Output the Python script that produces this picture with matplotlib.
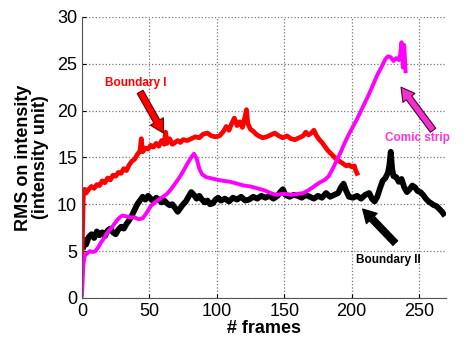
import numpy as np
import matplotlib
matplotlib.use("Agg")
import matplotlib.pyplot as plt

plt.rcParams['font.family'] = ['Liberation Sans', 'DejaVu Sans']

# Boundary I (red)
red_frames = [0, 1, 2, 3, 5, 7, 9, 11, 13, 15, 17, 19, 21, 23, 25, 27, 29, 31, 33, 35,
              37, 39, 41, 43, 44, 45, 47, 49, 51, 53, 55, 57, 59, 61, 62, 63, 65, 67, 69,
              71, 73, 75, 78, 81, 84, 87, 90, 93, 96, 99, 102, 105, 107, 109, 111, 113,
              115, 117, 119, 121, 122, 123, 125, 127, 129, 131, 134, 137, 140, 143, 146,
              149, 152, 155, 158, 161, 164, 166, 168, 170, 172, 174, 176, 178, 180, 182,
              184, 186, 188, 190, 192, 194, 196, 198, 200, 202, 203, 204]
red_rms = [4.6, 11.0, 11.6, 11.2, 11.6, 11.9, 11.7, 12.1, 12.0, 12.5, 12.3, 12.8, 12.6,
           13.1, 13.0, 13.4, 13.3, 13.8, 13.6, 14.2, 14.6, 14.8, 15.3, 15.7, 17.0, 15.6,
           16.0, 15.9, 16.3, 16.1, 16.5, 16.2, 16.8, 16.4, 17.7, 16.5, 17.0, 16.4, 16.6,
           16.8, 16.6, 16.9, 16.8, 17.0, 17.2, 17.1, 17.5, 17.6, 17.3, 17.2, 17.3, 17.8,
           18.3, 17.9, 18.6, 19.2, 18.4, 18.8, 18.2, 19.4, 20.1, 18.6, 18.0, 17.8, 17.5,
           17.3, 17.1, 17.2, 17.4, 17.6, 17.3, 17.1, 17.3, 17.0, 16.9, 17.1, 17.3, 17.7,
           17.4, 17.6, 17.9, 17.3, 16.9, 16.6, 16.2, 15.8, 15.5, 15.2, 14.9, 14.7, 14.5,
           14.3, 14.1, 14.2, 14.0, 14.1, 13.6, 13.3]

# Comic strip (magenta)
mag_frames = [0, 1, 2, 4, 6, 8, 10, 12, 14, 16, 18, 20, 22, 24, 26, 28, 30, 33, 36, 39,
              42, 45, 48, 51, 54, 57, 60, 63, 66, 69, 72, 75, 78, 81, 83, 85, 87, 89, 92,
              95, 98, 101, 105, 110, 115, 120, 125, 130, 135, 140, 144, 148, 152, 156,
              160, 164, 168, 172, 176, 180, 183, 186, 189, 192, 195, 198, 201, 204, 207,
              210, 213, 216, 219, 222, 225, 227, 229, 231, 233, 235, 236, 237, 238, 239, 240]
mag_rms = [0.3, 3.5, 4.5, 4.8, 5.0, 4.9, 5.0, 5.4, 5.9, 6.3, 6.8, 7.2, 7.5, 7.9, 8.3, 8.6,
           8.8, 8.7, 8.6, 8.6, 8.4, 8.5, 9.1, 9.8, 10.2, 10.5, 10.8, 11.1, 11.6, 12.2,
           12.8, 13.5, 14.3, 15.0, 15.4, 14.9, 13.8, 13.2, 12.9, 12.8, 12.7, 12.6, 12.5,
           12.4, 12.2, 12.0, 11.9, 11.7, 11.5, 11.2, 11.0, 11.1, 11.1, 11.0, 11.1, 11.2,
           11.5, 11.9, 12.3, 12.6, 13.0, 13.8, 14.7, 15.6, 16.6, 17.5, 18.3, 19.1, 20.0,
           20.9, 21.8, 22.8, 23.8, 24.6, 25.5, 25.8, 25.7, 25.3, 25.6, 25.4, 26.0, 27.3,
           24.6, 27.0, 24.2]

# Boundary II (black)
blk_frames = [1, 2, 3, 5, 7, 9, 11, 13, 15, 17, 19, 21, 23, 25, 27, 29, 31, 33, 35, 37,
              39, 41, 43, 45, 47, 49, 51, 53, 55, 57, 59, 61, 63, 65, 67, 69, 71, 73, 75,
              77, 79, 81, 83, 85, 87, 89, 91, 93, 95, 97, 99, 101, 103, 106, 109, 112,
              115, 118, 121, 124, 127, 130, 133, 136, 139, 142, 145, 147, 149, 151, 154,
              157, 160, 163, 166, 169, 172, 175, 178, 181, 184, 187, 190, 192, 194, 196,
              198, 201, 204, 207, 210, 213, 215, 217, 219, 221, 223, 225, 227, 228, 229,
              230, 231, 233, 235, 237, 239, 241, 243, 245, 247, 249, 251, 253, 255, 257,
              259, 261, 263, 265, 267, 268]
blk_rms = [5.5, 6.2, 5.7, 6.5, 6.8, 6.4, 7.1, 6.7, 7.0, 6.6, 7.2, 7.4, 7.0, 6.8, 7.3, 7.6,
           7.4, 7.9, 8.3, 8.8, 9.4, 10.0, 10.4, 10.8, 10.5, 10.9, 10.6, 10.3, 10.7, 10.5,
           10.2, 10.4, 10.1, 9.9, 10.0, 9.6, 9.2, 9.6, 10.0, 10.3, 10.8, 11.3, 11.0, 10.6,
           10.9, 10.5, 10.2, 10.4, 10.0, 10.1, 10.5, 10.7, 10.4, 10.6, 10.3, 10.7, 10.5,
           10.8, 10.4, 10.5, 10.8, 10.6, 10.9, 10.7, 10.9, 10.6, 10.9, 11.3, 11.6, 11.0,
           10.8, 11.0, 10.9, 10.7, 11.0, 10.8, 10.6, 10.9, 10.7, 11.2, 10.8, 11.0, 11.2,
           11.8, 12.2, 11.4, 10.8, 10.7, 10.9, 10.6, 11.0, 11.2, 10.6, 10.3, 10.8, 11.7,
           12.5, 12.8, 13.4, 14.2, 15.6, 13.8, 13.0, 12.9, 12.4, 12.7, 11.8, 11.3, 11.6,
           12.0, 11.8, 11.4, 11.3, 11.0, 10.6, 10.3, 10.1, 9.9, 9.8, 9.5, 9.2, 9.0]

x_ticks = [0, 50, 100, 150, 200, 250]
y_ticks = [0, 5, 10, 15, 20, 25, 30]

fig = plt.figure(figsize=(4.74, 3.53), dpi=100)
ax = fig.add_axes([0.173, 0.156, 0.768, 0.796])

ax.plot(blk_frames, blk_rms, color='black', lw=4.2, solid_joinstyle='round')
ax.plot(red_frames, red_rms, color='#ff0000', lw=3.4, solid_joinstyle='round')
ax.plot(mag_frames, mag_rms, color='#ff00ff', lw=2.8, solid_joinstyle='round')

ax.set_xlim(0, 270)
ax.set_ylim(0, 30)
ax.set_xticks(x_ticks)
ax.set_yticks(y_ticks)
ax.tick_params(direction='in', length=3, labelsize=13, colors='black')
ax.grid(True, linestyle=':', color='#777777', lw=0.9)
for s in ['top', 'right']:
    ax.spines[s].set_visible(False)
for s in ['left', 'bottom']:
    ax.spines[s].set_color('#555555')

ax.set_xlabel('# frames', fontsize=13, fontweight='bold', labelpad=0)
ax.set_ylabel('RMS on intensity\n(intensity unit)', fontsize=13, fontweight='bold',
              labelpad=6, linespacing=1.0)

# annotation texts
ax.text(39.5, 23.0, 'Boundary I', color='#ff0000', fontsize=8.5, fontweight='bold',
        ha='center', va='center')
ax.text(249, 17.1, 'Comic strip', color='#ff33dd', fontsize=8.5, fontweight='bold',
        ha='center', va='center')
ax.text(227, 4.05, 'Boundary II', color='black', fontsize=8.5, fontweight='bold',
        ha='center', va='center')

# block arrows, tail -> head
arrow_style = 'simple,head_width=0.9,head_length=0.8,tail_width=0.4'
arrows = [((43.1, 22.0), (60.4, 17.6), '#ff0000', '#660000'),
          ((260.4, 17.9), (236.6, 22.5), '#ee33cc', '#550033'),
          ((232.4, 5.85), (208.1, 9.5), 'black', 'black')]
for tail, head, fc, ec in arrows:
    ax.annotate('', xy=head, xytext=tail,
                arrowprops=dict(arrowstyle=arrow_style, fc=fc, ec=ec, lw=0.8,
                                shrinkA=0, shrinkB=0, mutation_scale=12))

fig.savefig('out.png', dpi=100)
